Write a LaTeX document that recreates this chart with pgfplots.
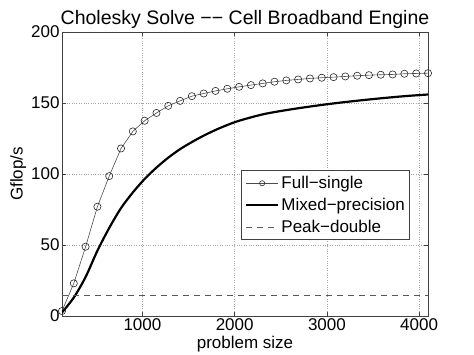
\documentclass[border=0pt]{standalone}
\usepackage{fontspec}
\setmainfont{Liberation Sans}
\usepackage{pgfplots}
\pgfplotsset{compat=1.18}
\begin{document}
\begin{tikzpicture}
\begin{axis}[
  scale only axis,
  width=366bp, height=284bp,
  at={(0,0)}, anchor=south west,
  xmin=128, xmax=4096, ymin=0, ymax=200,
  xtick={1000,2000,3000,4000},
  ytick={0,50,100,150,200},
  /pgf/number format/assume math mode=true,
  /pgf/number format/set thousands separator={},
  tick label style={font=\fontsize{17bp}{19bp}\selectfont, color=black},
  xmajorgrids, ymajorgrids,
  grid style={dotted, gray!70, line width=0.6pt},
  tick align=inside,
  major tick length=4bp,
  axis line style={black!75, line width=0.7pt},
  tick style={black!75, line width=0.6pt},
  xticklabel style={inner ysep=2bp},
  yticklabel style={xshift=1bp},
  title={Cholesky Solve −− Cell Broadband Engine},
  title style={font=\fontsize{19.5bp}{21bp}\selectfont, yshift=-6bp},
  xlabel={problem size},
  ylabel={Gflop/s},
  label style={font=\fontsize{17bp}{19bp}\selectfont},
  xlabel style={at={(rel axis cs:0.5,0)}, anchor=north, yshift=-20bp, inner sep=0pt},
  ylabel style={yshift=-2bp},
  legend style={at={(rel axis cs:0.951,0.514)}, anchor=north east,
    font=\fontsize{17bp}{19bp}\selectfont, draw=black!75, line width=0.7pt,
    row sep=4bp, inner xsep=3bp, inner ysep=4bp},
  legend cell align=left,
  legend image code/.code={\draw[#1] (0cm,0cm) -- (0.45in,0cm);
     \draw[#1, mark repeat=1, mark size=2.6bp] plot coordinates {(0.225in,0cm)};},
]
\addplot[color=black!70, line width=0.6pt, mark=o, mark size=3.6bp,
  mark options={solid, black!85, line width=0.6pt}] coordinates {
(128,3.5)(256,23)(384,48.8)(512,77)(640,98.5)(768,118)(896,130)(1024,137.5)
(1152,143)(1280,148)(1408,151.5)(1536,154.8)(1664,156.7)(1792,158.5)(1920,160)
(2048,161.4)(2176,162.6)(2304,163.8)(2432,165)(2560,165.9)(2688,166.6)(2816,167.3)
(2944,167.8)(3072,168.2)(3200,168.7)(3328,169.2)(3456,169.6)(3584,169.9)(3712,170.1)
(3840,170.6)(3968,170.8)(4096,171)};
\addlegendentry{Full−single}
\addplot[color=black, line width=2.2pt, smooth, mark=none] coordinates {
(128,2.5)(256,13)(384,27.5)(512,46)(640,62)(768,76)(896,87)(1024,96.5)
(1152,104.5)(1280,111.5)(1408,117.5)(1536,122.5)(1664,127)(1792,131)(1920,134.5)
(2048,137.5)(2304,142)(2560,145)(2816,147.5)(3072,149.7)(3328,151.6)(3584,153.3)
(3840,154.8)(4096,156)};
\addlegendentry{Mixed−precision}
\addplot[color=black!65, line width=0.7pt, dash pattern=on 6bp off 5bp, mark=none]
  coordinates {(128,14.6)(4096,14.6)};
\addlegendentry{Peak−double}
\end{axis}
\pgfresetboundingbox
\path (-62bp,-39bp) rectangle (412bp,316bp);
\end{tikzpicture}
\end{document}
